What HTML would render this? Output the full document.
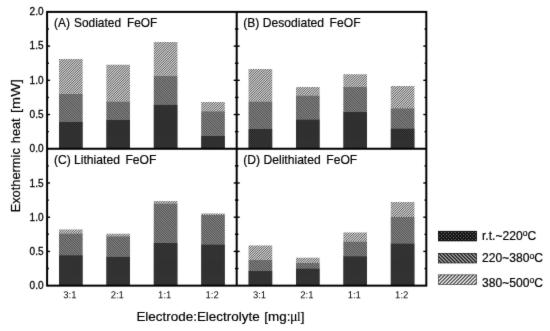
<!DOCTYPE html>
<html lang="en">
<head>
<meta charset="utf-8">
<title>Exothermic heat of FeOF electrodes</title>
<style>
html,body{margin:0;padding:0;background:#fff;}
body{width:550px;height:331px;overflow:hidden;}
svg{display:block;}
text{font-family:"Liberation Sans",Arial,sans-serif;fill:#000;stroke:#000;stroke-width:0.2px;}
.lg{font-size:12.1px;}
</style>
</head>
<body>
<svg width="550" height="331" viewBox="0 0 550 331">
<defs>
<filter id="soft" x="0" y="0" width="550" height="331" filterUnits="userSpaceOnUse" color-interpolation-filters="sRGB"><feConvolveMatrix order="3" kernelMatrix="0.015 0.06 0.015 0.06 0.7 0.06 0.015 0.06 0.015" divisor="1" edgeMode="duplicate" preserveAlpha="true"/></filter>
</defs>
<g filter="url(#soft)">
<rect width="550" height="331" fill="#ffffff"/>

<defs>
<clipPath id="bL"><rect x="59.00" y="59.00" width="23.60" height="35.00"/><rect x="106.40" y="64.80" width="23.60" height="36.80"/><rect x="153.80" y="41.90" width="23.60" height="33.80"/><rect x="201.20" y="102.10" width="23.60" height="9.20"/><rect x="248.60" y="69.10" width="23.60" height="32.50"/><rect x="296.00" y="87.00" width="23.60" height="8.40"/><rect x="343.40" y="74.30" width="23.60" height="12.70"/><rect x="390.80" y="86.00" width="23.60" height="22.20"/><rect x="59.00" y="229.60" width="23.60" height="3.80"/><rect x="106.40" y="233.70" width="23.60" height="2.50"/><rect x="153.80" y="200.90" width="23.60" height="2.50"/><rect x="201.20" y="213.60" width="23.60" height="1.30"/><rect x="248.60" y="245.60" width="23.60" height="14.50"/><rect x="296.00" y="257.80" width="23.60" height="5.10"/><rect x="343.40" y="232.40" width="23.60" height="9.20"/><rect x="390.80" y="202.10" width="23.60" height="14.80"/></clipPath>
<clipPath id="bM"><rect x="59.00" y="94.00" width="23.60" height="28.00"/><rect x="106.40" y="101.60" width="23.60" height="18.40"/><rect x="153.80" y="75.70" width="23.60" height="29.00"/><rect x="201.20" y="111.30" width="23.60" height="24.70"/><rect x="248.60" y="101.60" width="23.60" height="27.30"/><rect x="296.00" y="95.40" width="23.60" height="24.20"/><rect x="343.40" y="87.00" width="23.60" height="25.00"/><rect x="390.80" y="108.20" width="23.60" height="20.30"/><rect x="59.00" y="233.40" width="23.60" height="21.90"/><rect x="106.40" y="236.20" width="23.60" height="20.60"/><rect x="153.80" y="203.40" width="23.60" height="39.70"/><rect x="201.20" y="214.90" width="23.60" height="29.50"/><rect x="248.60" y="260.10" width="23.60" height="11.00"/><rect x="296.00" y="262.90" width="23.60" height="5.60"/><rect x="343.40" y="241.60" width="23.60" height="14.70"/><rect x="390.80" y="216.90" width="23.60" height="26.70"/></clipPath>
<clipPath id="bD"><rect x="59.00" y="122.00" width="23.60" height="26.75"/><rect x="106.40" y="120.00" width="23.60" height="28.75"/><rect x="153.80" y="104.70" width="23.60" height="44.05"/><rect x="201.20" y="136.00" width="23.60" height="12.75"/><rect x="248.60" y="128.90" width="23.60" height="19.85"/><rect x="296.00" y="119.60" width="23.60" height="29.15"/><rect x="343.40" y="112.00" width="23.60" height="36.75"/><rect x="390.80" y="128.50" width="23.60" height="20.25"/><rect x="59.00" y="255.30" width="23.60" height="30.35"/><rect x="106.40" y="256.80" width="23.60" height="28.85"/><rect x="153.80" y="243.10" width="23.60" height="42.55"/><rect x="201.20" y="244.40" width="23.60" height="41.25"/><rect x="248.60" y="271.10" width="23.60" height="14.55"/><rect x="296.00" y="268.50" width="23.60" height="17.15"/><rect x="343.40" y="256.30" width="23.60" height="29.35"/><rect x="390.80" y="243.60" width="23.60" height="42.05"/></clipPath>
</defs>
<g clip-path="url(#bL)">
<rect x="47.1" y="11.9" width="379.2" height="273.75" fill="#d6d6d6"/>
<path d="M-89.8 148.8l136.8 -136.8M-87.3 148.8l136.8 -136.8M-84.9 148.8l136.8 -136.8M-82.5 148.8l136.8 -136.8M-80.1 148.8l136.8 -136.8M-77.7 148.8l136.8 -136.8M-75.3 148.8l136.8 -136.8M-72.9 148.8l136.8 -136.8M-70.5 148.8l136.8 -136.8M-68.1 148.8l136.8 -136.8M-65.7 148.8l136.8 -136.8M-63.3 148.8l136.8 -136.8M-60.9 148.8l136.8 -136.8M-58.5 148.8l136.8 -136.8M-56.1 148.8l136.8 -136.8M-53.7 148.8l136.8 -136.8M-51.3 148.8l136.8 -136.8M-48.9 148.8l136.8 -136.8M-46.5 148.8l136.8 -136.8M-44.1 148.8l136.8 -136.8M-41.7 148.8l136.8 -136.8M-39.3 148.8l136.8 -136.8M-36.9 148.8l136.8 -136.8M-34.5 148.8l136.8 -136.8M-32.1 148.8l136.8 -136.8M-29.7 148.8l136.8 -136.8M-27.3 148.8l136.8 -136.8M-24.9 148.8l136.8 -136.8M-22.5 148.8l136.8 -136.8M-20.1 148.8l136.8 -136.8M-17.7 148.8l136.8 -136.8M-15.3 148.8l136.8 -136.8M-12.9 148.8l136.8 -136.8M-10.5 148.8l136.8 -136.8M-8.1 148.8l136.8 -136.8M-5.7 148.8l136.8 -136.8M-3.3 148.8l136.8 -136.8M-0.9 148.8l136.8 -136.8M1.5 148.8l136.8 -136.8M3.9 148.8l136.8 -136.8M6.3 148.8l136.8 -136.8M8.7 148.8l136.8 -136.8M11.1 148.8l136.8 -136.8M13.5 148.8l136.8 -136.8M15.9 148.8l136.8 -136.8M18.3 148.8l136.8 -136.8M20.7 148.8l136.8 -136.8M23.1 148.8l136.8 -136.8M25.5 148.8l136.8 -136.8M27.9 148.8l136.8 -136.8M30.3 148.8l136.8 -136.8M32.7 148.8l136.8 -136.8M35.1 148.8l136.8 -136.8M37.5 148.8l136.8 -136.8M39.9 148.8l136.8 -136.8M42.3 148.8l136.8 -136.8M44.7 148.8l136.8 -136.8M47.1 148.8l136.8 -136.8M49.5 148.8l136.8 -136.8M51.9 148.8l136.8 -136.8M54.3 148.8l136.8 -136.8M56.7 148.8l136.8 -136.8M59.1 148.8l136.8 -136.8M61.5 148.8l136.8 -136.8M63.9 148.8l136.8 -136.8M66.3 148.8l136.8 -136.8M68.7 148.8l136.8 -136.8M71.1 148.8l136.8 -136.8M73.5 148.8l136.8 -136.8M75.9 148.8l136.8 -136.8M78.3 148.8l136.8 -136.8M80.7 148.8l136.8 -136.8M83.1 148.8l136.8 -136.8M85.5 148.8l136.8 -136.8M87.9 148.8l136.8 -136.8M90.3 148.8l136.8 -136.8M92.7 148.8l136.8 -136.8M95.1 148.8l136.8 -136.8M97.5 148.8l136.8 -136.8M99.9 148.8l136.8 -136.8M102.3 148.8l136.8 -136.8M104.7 148.8l136.8 -136.8M107.1 148.8l136.8 -136.8M109.5 148.8l136.8 -136.8M111.9 148.8l136.8 -136.8M114.3 148.8l136.8 -136.8M116.7 148.8l136.8 -136.8M119.1 148.8l136.8 -136.8M121.5 148.8l136.8 -136.8M123.9 148.8l136.8 -136.8M126.3 148.8l136.8 -136.8M128.7 148.8l136.8 -136.8M131.1 148.8l136.8 -136.8M133.5 148.8l136.8 -136.8M135.9 148.8l136.8 -136.8M138.3 148.8l136.8 -136.8M140.7 148.8l136.8 -136.8M143.1 148.8l136.8 -136.8M145.5 148.8l136.8 -136.8M147.9 148.8l136.8 -136.8M150.3 148.8l136.8 -136.8M152.7 148.8l136.8 -136.8M155.1 148.8l136.8 -136.8M157.5 148.8l136.8 -136.8M159.9 148.8l136.8 -136.8M162.3 148.8l136.8 -136.8M164.7 148.8l136.8 -136.8M167.1 148.8l136.8 -136.8M169.5 148.8l136.8 -136.8M171.9 148.8l136.8 -136.8M174.3 148.8l136.8 -136.8M176.7 148.8l136.8 -136.8M179.1 148.8l136.8 -136.8M181.5 148.8l136.8 -136.8M183.9 148.8l136.8 -136.8M186.3 148.8l136.8 -136.8M188.7 148.8l136.8 -136.8M191.1 148.8l136.8 -136.8M193.5 148.8l136.8 -136.8M195.9 148.8l136.8 -136.8M198.3 148.8l136.8 -136.8M200.7 148.8l136.8 -136.8M203.1 148.8l136.8 -136.8M205.5 148.8l136.8 -136.8M207.9 148.8l136.8 -136.8M210.3 148.8l136.8 -136.8M212.7 148.8l136.8 -136.8M215.1 148.8l136.8 -136.8M217.5 148.8l136.8 -136.8M219.9 148.8l136.8 -136.8M222.3 148.8l136.8 -136.8M224.7 148.8l136.8 -136.8M227.1 148.8l136.8 -136.8M229.5 148.8l136.8 -136.8M231.9 148.8l136.8 -136.8M234.3 148.8l136.8 -136.8M236.7 148.8l136.8 -136.8M239.1 148.8l136.8 -136.8M241.5 148.8l136.8 -136.8M243.9 148.8l136.8 -136.8M246.3 148.8l136.8 -136.8M248.7 148.8l136.8 -136.8M251.1 148.8l136.8 -136.8M253.5 148.8l136.8 -136.8M255.9 148.8l136.8 -136.8M258.3 148.8l136.8 -136.8M260.7 148.8l136.8 -136.8M263.1 148.8l136.8 -136.8M265.5 148.8l136.8 -136.8M267.9 148.8l136.8 -136.8M270.3 148.8l136.8 -136.8M272.7 148.8l136.8 -136.8M275.1 148.8l136.8 -136.8M277.5 148.8l136.8 -136.8M279.9 148.8l136.8 -136.8M282.3 148.8l136.8 -136.8M284.7 148.8l136.8 -136.8M287.1 148.8l136.8 -136.8M289.5 148.8l136.8 -136.8M291.9 148.8l136.8 -136.8M294.3 148.8l136.8 -136.8M296.7 148.8l136.8 -136.8M299.1 148.8l136.8 -136.8M301.5 148.8l136.8 -136.8M303.9 148.8l136.8 -136.8M306.2 148.8l136.8 -136.8M308.6 148.8l136.8 -136.8M311.0 148.8l136.8 -136.8M313.4 148.8l136.8 -136.8M315.8 148.8l136.8 -136.8M318.2 148.8l136.8 -136.8M320.6 148.8l136.8 -136.8M323.0 148.8l136.8 -136.8M325.4 148.8l136.8 -136.8M327.8 148.8l136.8 -136.8M330.2 148.8l136.8 -136.8M332.6 148.8l136.8 -136.8M335.0 148.8l136.8 -136.8M337.4 148.8l136.8 -136.8M339.8 148.8l136.8 -136.8M342.2 148.8l136.8 -136.8M344.6 148.8l136.8 -136.8M347.0 148.8l136.8 -136.8M349.4 148.8l136.8 -136.8M351.8 148.8l136.8 -136.8M354.2 148.8l136.8 -136.8M356.6 148.8l136.8 -136.8M359.0 148.8l136.8 -136.8M361.4 148.8l136.8 -136.8M363.8 148.8l136.8 -136.8M366.2 148.8l136.8 -136.8M368.6 148.8l136.8 -136.8M371.0 148.8l136.8 -136.8M373.4 148.8l136.8 -136.8M375.8 148.8l136.8 -136.8M378.2 148.8l136.8 -136.8M380.6 148.8l136.8 -136.8M383.0 148.8l136.8 -136.8M385.4 148.8l136.8 -136.8M387.8 148.8l136.8 -136.8M390.2 148.8l136.8 -136.8M392.6 148.8l136.8 -136.8M395.0 148.8l136.8 -136.8M397.4 148.8l136.8 -136.8M399.8 148.8l136.8 -136.8M402.2 148.8l136.8 -136.8M404.6 148.8l136.8 -136.8M407.0 148.8l136.8 -136.8M409.4 148.8l136.8 -136.8M411.8 148.8l136.8 -136.8M414.2 148.8l136.8 -136.8M416.6 148.8l136.8 -136.8M419.0 148.8l136.8 -136.8M421.4 148.8l136.8 -136.8M423.8 148.8l136.8 -136.8M426.2 148.8l136.8 -136.8" stroke="#505050" stroke-width="0.95" fill="none"/>
<path d="M-89.8 285.6l136.9 -136.9M-87.4 285.6l136.9 -136.9M-85.0 285.6l136.9 -136.9M-82.6 285.6l136.9 -136.9M-80.2 285.6l136.9 -136.9M-77.8 285.6l136.9 -136.9M-75.4 285.6l136.9 -136.9M-73.0 285.6l136.9 -136.9M-70.6 285.6l136.9 -136.9M-68.2 285.6l136.9 -136.9M-65.8 285.6l136.9 -136.9M-63.4 285.6l136.9 -136.9M-61.0 285.6l136.9 -136.9M-58.6 285.6l136.9 -136.9M-56.2 285.6l136.9 -136.9M-53.8 285.6l136.9 -136.9M-51.4 285.6l136.9 -136.9M-49.0 285.6l136.9 -136.9M-46.6 285.6l136.9 -136.9M-44.2 285.6l136.9 -136.9M-41.8 285.6l136.9 -136.9M-39.4 285.6l136.9 -136.9M-37.0 285.6l136.9 -136.9M-34.6 285.6l136.9 -136.9M-32.2 285.6l136.9 -136.9M-29.8 285.6l136.9 -136.9M-27.4 285.6l136.9 -136.9M-25.0 285.6l136.9 -136.9M-22.6 285.6l136.9 -136.9M-20.2 285.6l136.9 -136.9M-17.8 285.6l136.9 -136.9M-15.4 285.6l136.9 -136.9M-13.0 285.6l136.9 -136.9M-10.6 285.6l136.9 -136.9M-8.2 285.6l136.9 -136.9M-5.8 285.6l136.9 -136.9M-3.4 285.6l136.9 -136.9M-1.0 285.6l136.9 -136.9M1.4 285.6l136.9 -136.9M3.8 285.6l136.9 -136.9M6.2 285.6l136.9 -136.9M8.6 285.6l136.9 -136.9M11.0 285.6l136.9 -136.9M13.4 285.6l136.9 -136.9M15.8 285.6l136.9 -136.9M18.2 285.6l136.9 -136.9M20.6 285.6l136.9 -136.9M23.0 285.6l136.9 -136.9M25.4 285.6l136.9 -136.9M27.8 285.6l136.9 -136.9M30.2 285.6l136.9 -136.9M32.6 285.6l136.9 -136.9M35.0 285.6l136.9 -136.9M37.4 285.6l136.9 -136.9M39.8 285.6l136.9 -136.9M42.2 285.6l136.9 -136.9M44.6 285.6l136.9 -136.9M47.0 285.6l136.9 -136.9M49.4 285.6l136.9 -136.9M51.8 285.6l136.9 -136.9M54.2 285.6l136.9 -136.9M56.6 285.6l136.9 -136.9M59.0 285.6l136.9 -136.9M61.4 285.6l136.9 -136.9M63.8 285.6l136.9 -136.9M66.2 285.6l136.9 -136.9M68.6 285.6l136.9 -136.9M71.0 285.6l136.9 -136.9M73.4 285.6l136.9 -136.9M75.8 285.6l136.9 -136.9M78.2 285.6l136.9 -136.9M80.6 285.6l136.9 -136.9M83.0 285.6l136.9 -136.9M85.4 285.6l136.9 -136.9M87.8 285.6l136.9 -136.9M90.2 285.6l136.9 -136.9M92.6 285.6l136.9 -136.9M95.0 285.6l136.9 -136.9M97.4 285.6l136.9 -136.9M99.8 285.6l136.9 -136.9M102.2 285.6l136.9 -136.9M104.6 285.6l136.9 -136.9M107.0 285.6l136.9 -136.9M109.4 285.6l136.9 -136.9M111.8 285.6l136.9 -136.9M114.2 285.6l136.9 -136.9M116.6 285.6l136.9 -136.9M119.0 285.6l136.9 -136.9M121.4 285.6l136.9 -136.9M123.8 285.6l136.9 -136.9M126.2 285.6l136.9 -136.9M128.6 285.6l136.9 -136.9M131.0 285.6l136.9 -136.9M133.4 285.6l136.9 -136.9M135.8 285.6l136.9 -136.9M138.2 285.6l136.9 -136.9M140.6 285.6l136.9 -136.9M143.0 285.6l136.9 -136.9M145.4 285.6l136.9 -136.9M147.8 285.6l136.9 -136.9M150.2 285.6l136.9 -136.9M152.6 285.6l136.9 -136.9M155.0 285.6l136.9 -136.9M157.4 285.6l136.9 -136.9M159.8 285.6l136.9 -136.9M162.2 285.6l136.9 -136.9M164.6 285.6l136.9 -136.9M167.0 285.6l136.9 -136.9M169.4 285.6l136.9 -136.9M171.8 285.6l136.9 -136.9M174.2 285.6l136.9 -136.9M176.6 285.6l136.9 -136.9M179.0 285.6l136.9 -136.9M181.4 285.6l136.9 -136.9M183.8 285.6l136.9 -136.9M186.2 285.6l136.9 -136.9M188.6 285.6l136.9 -136.9M191.0 285.6l136.9 -136.9M193.4 285.6l136.9 -136.9M195.8 285.6l136.9 -136.9M198.2 285.6l136.9 -136.9M200.6 285.6l136.9 -136.9M203.0 285.6l136.9 -136.9M205.4 285.6l136.9 -136.9M207.8 285.6l136.9 -136.9M210.2 285.6l136.9 -136.9M212.6 285.6l136.9 -136.9M215.0 285.6l136.9 -136.9M217.4 285.6l136.9 -136.9M219.8 285.6l136.9 -136.9M222.2 285.6l136.9 -136.9M224.6 285.6l136.9 -136.9M227.0 285.6l136.9 -136.9M229.4 285.6l136.9 -136.9M231.8 285.6l136.9 -136.9M234.2 285.6l136.9 -136.9M236.6 285.6l136.9 -136.9M239.0 285.6l136.9 -136.9M241.4 285.6l136.9 -136.9M243.8 285.6l136.9 -136.9M246.2 285.6l136.9 -136.9M248.6 285.6l136.9 -136.9M251.0 285.6l136.9 -136.9M253.4 285.6l136.9 -136.9M255.8 285.6l136.9 -136.9M258.2 285.6l136.9 -136.9M260.6 285.6l136.9 -136.9M263.0 285.6l136.9 -136.9M265.4 285.6l136.9 -136.9M267.8 285.6l136.9 -136.9M270.2 285.6l136.9 -136.9M272.6 285.6l136.9 -136.9M275.0 285.6l136.9 -136.9M277.4 285.6l136.9 -136.9M279.8 285.6l136.9 -136.9M282.2 285.6l136.9 -136.9M284.6 285.6l136.9 -136.9M287.0 285.6l136.9 -136.9M289.4 285.6l136.9 -136.9M291.8 285.6l136.9 -136.9M294.2 285.6l136.9 -136.9M296.6 285.6l136.9 -136.9M299.0 285.6l136.9 -136.9M301.4 285.6l136.9 -136.9M303.8 285.6l136.9 -136.9M306.2 285.6l136.9 -136.9M308.6 285.6l136.9 -136.9M311.0 285.6l136.9 -136.9M313.4 285.6l136.9 -136.9M315.8 285.6l136.9 -136.9M318.2 285.6l136.9 -136.9M320.6 285.6l136.9 -136.9M323.0 285.6l136.9 -136.9M325.4 285.6l136.9 -136.9M327.8 285.6l136.9 -136.9M330.2 285.6l136.9 -136.9M332.6 285.6l136.9 -136.9M335.0 285.6l136.9 -136.9M337.4 285.6l136.9 -136.9M339.8 285.6l136.9 -136.9M342.2 285.6l136.9 -136.9M344.6 285.6l136.9 -136.9M347.0 285.6l136.9 -136.9M349.4 285.6l136.9 -136.9M351.8 285.6l136.9 -136.9M354.2 285.6l136.9 -136.9M356.6 285.6l136.9 -136.9M359.0 285.6l136.9 -136.9M361.4 285.6l136.9 -136.9M363.8 285.6l136.9 -136.9M366.2 285.6l136.9 -136.9M368.6 285.6l136.9 -136.9M371.0 285.6l136.9 -136.9M373.4 285.6l136.9 -136.9M375.8 285.6l136.9 -136.9M378.2 285.6l136.9 -136.9M380.6 285.6l136.9 -136.9M383.0 285.6l136.9 -136.9M385.4 285.6l136.9 -136.9M387.8 285.6l136.9 -136.9M390.2 285.6l136.9 -136.9M392.6 285.6l136.9 -136.9M395.0 285.6l136.9 -136.9M397.4 285.6l136.9 -136.9M399.8 285.6l136.9 -136.9M402.2 285.6l136.9 -136.9M404.6 285.6l136.9 -136.9M407.0 285.6l136.9 -136.9M409.4 285.6l136.9 -136.9M411.8 285.6l136.9 -136.9M414.2 285.6l136.9 -136.9M416.6 285.6l136.9 -136.9M419.0 285.6l136.9 -136.9M421.4 285.6l136.9 -136.9M423.8 285.6l136.9 -136.9M426.2 285.6l136.9 -136.9" stroke="#505050" stroke-width="0.95" fill="none"/>
</g>
<g clip-path="url(#bM)">
<rect x="47.1" y="11.9" width="379.2" height="273.75" fill="#888888"/>
<path d="M-89.8 11.9l136.8 136.8M-87.3 11.9l136.8 136.8M-84.9 11.9l136.8 136.8M-82.5 11.9l136.8 136.8M-80.1 11.9l136.8 136.8M-77.7 11.9l136.8 136.8M-75.3 11.9l136.8 136.8M-72.9 11.9l136.8 136.8M-70.5 11.9l136.8 136.8M-68.1 11.9l136.8 136.8M-65.7 11.9l136.8 136.8M-63.3 11.9l136.8 136.8M-60.9 11.9l136.8 136.8M-58.5 11.9l136.8 136.8M-56.1 11.9l136.8 136.8M-53.7 11.9l136.8 136.8M-51.3 11.9l136.8 136.8M-48.9 11.9l136.8 136.8M-46.5 11.9l136.8 136.8M-44.1 11.9l136.8 136.8M-41.7 11.9l136.8 136.8M-39.3 11.9l136.8 136.8M-36.9 11.9l136.8 136.8M-34.5 11.9l136.8 136.8M-32.1 11.9l136.8 136.8M-29.7 11.9l136.8 136.8M-27.3 11.9l136.8 136.8M-24.9 11.9l136.8 136.8M-22.5 11.9l136.8 136.8M-20.1 11.9l136.8 136.8M-17.7 11.9l136.8 136.8M-15.3 11.9l136.8 136.8M-12.9 11.9l136.8 136.8M-10.5 11.9l136.8 136.8M-8.1 11.9l136.8 136.8M-5.7 11.9l136.8 136.8M-3.3 11.9l136.8 136.8M-0.9 11.9l136.8 136.8M1.5 11.9l136.8 136.8M3.9 11.9l136.8 136.8M6.3 11.9l136.8 136.8M8.7 11.9l136.8 136.8M11.1 11.9l136.8 136.8M13.5 11.9l136.8 136.8M15.9 11.9l136.8 136.8M18.3 11.9l136.8 136.8M20.7 11.9l136.8 136.8M23.1 11.9l136.8 136.8M25.5 11.9l136.8 136.8M27.9 11.9l136.8 136.8M30.3 11.9l136.8 136.8M32.7 11.9l136.8 136.8M35.1 11.9l136.8 136.8M37.5 11.9l136.8 136.8M39.9 11.9l136.8 136.8M42.3 11.9l136.8 136.8M44.7 11.9l136.8 136.8M47.1 11.9l136.8 136.8M49.5 11.9l136.8 136.8M51.9 11.9l136.8 136.8M54.3 11.9l136.8 136.8M56.7 11.9l136.8 136.8M59.1 11.9l136.8 136.8M61.5 11.9l136.8 136.8M63.9 11.9l136.8 136.8M66.3 11.9l136.8 136.8M68.7 11.9l136.8 136.8M71.1 11.9l136.8 136.8M73.5 11.9l136.8 136.8M75.9 11.9l136.8 136.8M78.3 11.9l136.8 136.8M80.7 11.9l136.8 136.8M83.1 11.9l136.8 136.8M85.5 11.9l136.8 136.8M87.9 11.9l136.8 136.8M90.3 11.9l136.8 136.8M92.7 11.9l136.8 136.8M95.1 11.9l136.8 136.8M97.5 11.9l136.8 136.8M99.9 11.9l136.8 136.8M102.3 11.9l136.8 136.8M104.7 11.9l136.8 136.8M107.1 11.9l136.8 136.8M109.5 11.9l136.8 136.8M111.9 11.9l136.8 136.8M114.3 11.9l136.8 136.8M116.7 11.9l136.8 136.8M119.1 11.9l136.8 136.8M121.5 11.9l136.8 136.8M123.9 11.9l136.8 136.8M126.3 11.9l136.8 136.8M128.7 11.9l136.8 136.8M131.1 11.9l136.8 136.8M133.5 11.9l136.8 136.8M135.9 11.9l136.8 136.8M138.3 11.9l136.8 136.8M140.7 11.9l136.8 136.8M143.1 11.9l136.8 136.8M145.5 11.9l136.8 136.8M147.9 11.9l136.8 136.8M150.3 11.9l136.8 136.8M152.7 11.9l136.8 136.8M155.1 11.9l136.8 136.8M157.5 11.9l136.8 136.8M159.9 11.9l136.8 136.8M162.3 11.9l136.8 136.8M164.7 11.9l136.8 136.8M167.1 11.9l136.8 136.8M169.5 11.9l136.8 136.8M171.9 11.9l136.8 136.8M174.3 11.9l136.8 136.8M176.7 11.9l136.8 136.8M179.1 11.9l136.8 136.8M181.5 11.9l136.8 136.8M183.9 11.9l136.8 136.8M186.3 11.9l136.8 136.8M188.7 11.9l136.8 136.8M191.1 11.9l136.8 136.8M193.5 11.9l136.8 136.8M195.9 11.9l136.8 136.8M198.3 11.9l136.8 136.8M200.7 11.9l136.8 136.8M203.1 11.9l136.8 136.8M205.5 11.9l136.8 136.8M207.9 11.9l136.8 136.8M210.3 11.9l136.8 136.8M212.7 11.9l136.8 136.8M215.1 11.9l136.8 136.8M217.5 11.9l136.8 136.8M219.9 11.9l136.8 136.8M222.3 11.9l136.8 136.8M224.7 11.9l136.8 136.8M227.1 11.9l136.8 136.8M229.5 11.9l136.8 136.8M231.9 11.9l136.8 136.8M234.3 11.9l136.8 136.8M236.7 11.9l136.8 136.8M239.1 11.9l136.8 136.8M241.5 11.9l136.8 136.8M243.9 11.9l136.8 136.8M246.3 11.9l136.8 136.8M248.7 11.9l136.8 136.8M251.1 11.9l136.8 136.8M253.5 11.9l136.8 136.8M255.9 11.9l136.8 136.8M258.3 11.9l136.8 136.8M260.7 11.9l136.8 136.8M263.1 11.9l136.8 136.8M265.5 11.9l136.8 136.8M267.9 11.9l136.8 136.8M270.3 11.9l136.8 136.8M272.7 11.9l136.8 136.8M275.1 11.9l136.8 136.8M277.5 11.9l136.8 136.8M279.9 11.9l136.8 136.8M282.3 11.9l136.8 136.8M284.7 11.9l136.8 136.8M287.1 11.9l136.8 136.8M289.5 11.9l136.8 136.8M291.9 11.9l136.8 136.8M294.3 11.9l136.8 136.8M296.7 11.9l136.8 136.8M299.1 11.9l136.8 136.8M301.5 11.9l136.8 136.8M303.9 11.9l136.8 136.8M306.2 11.9l136.8 136.8M308.6 11.9l136.8 136.8M311.0 11.9l136.8 136.8M313.4 11.9l136.8 136.8M315.8 11.9l136.8 136.8M318.2 11.9l136.8 136.8M320.6 11.9l136.8 136.8M323.0 11.9l136.8 136.8M325.4 11.9l136.8 136.8M327.8 11.9l136.8 136.8M330.2 11.9l136.8 136.8M332.6 11.9l136.8 136.8M335.0 11.9l136.8 136.8M337.4 11.9l136.8 136.8M339.8 11.9l136.8 136.8M342.2 11.9l136.8 136.8M344.6 11.9l136.8 136.8M347.0 11.9l136.8 136.8M349.4 11.9l136.8 136.8M351.8 11.9l136.8 136.8M354.2 11.9l136.8 136.8M356.6 11.9l136.8 136.8M359.0 11.9l136.8 136.8M361.4 11.9l136.8 136.8M363.8 11.9l136.8 136.8M366.2 11.9l136.8 136.8M368.6 11.9l136.8 136.8M371.0 11.9l136.8 136.8M373.4 11.9l136.8 136.8M375.8 11.9l136.8 136.8M378.2 11.9l136.8 136.8M380.6 11.9l136.8 136.8M383.0 11.9l136.8 136.8M385.4 11.9l136.8 136.8M387.8 11.9l136.8 136.8M390.2 11.9l136.8 136.8M392.6 11.9l136.8 136.8M395.0 11.9l136.8 136.8M397.4 11.9l136.8 136.8M399.8 11.9l136.8 136.8M402.2 11.9l136.8 136.8M404.6 11.9l136.8 136.8M407.0 11.9l136.8 136.8M409.4 11.9l136.8 136.8M411.8 11.9l136.8 136.8M414.2 11.9l136.8 136.8M416.6 11.9l136.8 136.8M419.0 11.9l136.8 136.8M421.4 11.9l136.8 136.8M423.8 11.9l136.8 136.8M426.2 11.9l136.8 136.8" stroke="#404040" stroke-width="0.9" fill="none"/>
<path d="M-89.8 148.8l136.9 136.9M-87.4 148.8l136.9 136.9M-85.0 148.8l136.9 136.9M-82.6 148.8l136.9 136.9M-80.2 148.8l136.9 136.9M-77.8 148.8l136.9 136.9M-75.4 148.8l136.9 136.9M-73.0 148.8l136.9 136.9M-70.6 148.8l136.9 136.9M-68.2 148.8l136.9 136.9M-65.8 148.8l136.9 136.9M-63.4 148.8l136.9 136.9M-61.0 148.8l136.9 136.9M-58.6 148.8l136.9 136.9M-56.2 148.8l136.9 136.9M-53.8 148.8l136.9 136.9M-51.4 148.8l136.9 136.9M-49.0 148.8l136.9 136.9M-46.6 148.8l136.9 136.9M-44.2 148.8l136.9 136.9M-41.8 148.8l136.9 136.9M-39.4 148.8l136.9 136.9M-37.0 148.8l136.9 136.9M-34.6 148.8l136.9 136.9M-32.2 148.8l136.9 136.9M-29.8 148.8l136.9 136.9M-27.4 148.8l136.9 136.9M-25.0 148.8l136.9 136.9M-22.6 148.8l136.9 136.9M-20.2 148.8l136.9 136.9M-17.8 148.8l136.9 136.9M-15.4 148.8l136.9 136.9M-13.0 148.8l136.9 136.9M-10.6 148.8l136.9 136.9M-8.2 148.8l136.9 136.9M-5.8 148.8l136.9 136.9M-3.4 148.8l136.9 136.9M-1.0 148.8l136.9 136.9M1.4 148.8l136.9 136.9M3.8 148.8l136.9 136.9M6.2 148.8l136.9 136.9M8.6 148.8l136.9 136.9M11.0 148.8l136.9 136.9M13.4 148.8l136.9 136.9M15.8 148.8l136.9 136.9M18.2 148.8l136.9 136.9M20.6 148.8l136.9 136.9M23.0 148.8l136.9 136.9M25.4 148.8l136.9 136.9M27.8 148.8l136.9 136.9M30.2 148.8l136.9 136.9M32.6 148.8l136.9 136.9M35.0 148.8l136.9 136.9M37.4 148.8l136.9 136.9M39.8 148.8l136.9 136.9M42.2 148.8l136.9 136.9M44.6 148.8l136.9 136.9M47.0 148.8l136.9 136.9M49.4 148.8l136.9 136.9M51.8 148.8l136.9 136.9M54.2 148.8l136.9 136.9M56.6 148.8l136.9 136.9M59.0 148.8l136.9 136.9M61.4 148.8l136.9 136.9M63.8 148.8l136.9 136.9M66.2 148.8l136.9 136.9M68.6 148.8l136.9 136.9M71.0 148.8l136.9 136.9M73.4 148.8l136.9 136.9M75.8 148.8l136.9 136.9M78.2 148.8l136.9 136.9M80.6 148.8l136.9 136.9M83.0 148.8l136.9 136.9M85.4 148.8l136.9 136.9M87.8 148.8l136.9 136.9M90.2 148.8l136.9 136.9M92.6 148.8l136.9 136.9M95.0 148.8l136.9 136.9M97.4 148.8l136.9 136.9M99.8 148.8l136.9 136.9M102.2 148.8l136.9 136.9M104.6 148.8l136.9 136.9M107.0 148.8l136.9 136.9M109.4 148.8l136.9 136.9M111.8 148.8l136.9 136.9M114.2 148.8l136.9 136.9M116.6 148.8l136.9 136.9M119.0 148.8l136.9 136.9M121.4 148.8l136.9 136.9M123.8 148.8l136.9 136.9M126.2 148.8l136.9 136.9M128.6 148.8l136.9 136.9M131.0 148.8l136.9 136.9M133.4 148.8l136.9 136.9M135.8 148.8l136.9 136.9M138.2 148.8l136.9 136.9M140.6 148.8l136.9 136.9M143.0 148.8l136.9 136.9M145.4 148.8l136.9 136.9M147.8 148.8l136.9 136.9M150.2 148.8l136.9 136.9M152.6 148.8l136.9 136.9M155.0 148.8l136.9 136.9M157.4 148.8l136.9 136.9M159.8 148.8l136.9 136.9M162.2 148.8l136.9 136.9M164.6 148.8l136.9 136.9M167.0 148.8l136.9 136.9M169.4 148.8l136.9 136.9M171.8 148.8l136.9 136.9M174.2 148.8l136.9 136.9M176.6 148.8l136.9 136.9M179.0 148.8l136.9 136.9M181.4 148.8l136.9 136.9M183.8 148.8l136.9 136.9M186.2 148.8l136.9 136.9M188.6 148.8l136.9 136.9M191.0 148.8l136.9 136.9M193.4 148.8l136.9 136.9M195.8 148.8l136.9 136.9M198.2 148.8l136.9 136.9M200.6 148.8l136.9 136.9M203.0 148.8l136.9 136.9M205.4 148.8l136.9 136.9M207.8 148.8l136.9 136.9M210.2 148.8l136.9 136.9M212.6 148.8l136.9 136.9M215.0 148.8l136.9 136.9M217.4 148.8l136.9 136.9M219.8 148.8l136.9 136.9M222.2 148.8l136.9 136.9M224.6 148.8l136.9 136.9M227.0 148.8l136.9 136.9M229.4 148.8l136.9 136.9M231.8 148.8l136.9 136.9M234.2 148.8l136.9 136.9M236.6 148.8l136.9 136.9M239.0 148.8l136.9 136.9M241.4 148.8l136.9 136.9M243.8 148.8l136.9 136.9M246.2 148.8l136.9 136.9M248.6 148.8l136.9 136.9M251.0 148.8l136.9 136.9M253.4 148.8l136.9 136.9M255.8 148.8l136.9 136.9M258.2 148.8l136.9 136.9M260.6 148.8l136.9 136.9M263.0 148.8l136.9 136.9M265.4 148.8l136.9 136.9M267.8 148.8l136.9 136.9M270.2 148.8l136.9 136.9M272.6 148.8l136.9 136.9M275.0 148.8l136.9 136.9M277.4 148.8l136.9 136.9M279.8 148.8l136.9 136.9M282.2 148.8l136.9 136.9M284.6 148.8l136.9 136.9M287.0 148.8l136.9 136.9M289.4 148.8l136.9 136.9M291.8 148.8l136.9 136.9M294.2 148.8l136.9 136.9M296.6 148.8l136.9 136.9M299.0 148.8l136.9 136.9M301.4 148.8l136.9 136.9M303.8 148.8l136.9 136.9M306.2 148.8l136.9 136.9M308.6 148.8l136.9 136.9M311.0 148.8l136.9 136.9M313.4 148.8l136.9 136.9M315.8 148.8l136.9 136.9M318.2 148.8l136.9 136.9M320.6 148.8l136.9 136.9M323.0 148.8l136.9 136.9M325.4 148.8l136.9 136.9M327.8 148.8l136.9 136.9M330.2 148.8l136.9 136.9M332.6 148.8l136.9 136.9M335.0 148.8l136.9 136.9M337.4 148.8l136.9 136.9M339.8 148.8l136.9 136.9M342.2 148.8l136.9 136.9M344.6 148.8l136.9 136.9M347.0 148.8l136.9 136.9M349.4 148.8l136.9 136.9M351.8 148.8l136.9 136.9M354.2 148.8l136.9 136.9M356.6 148.8l136.9 136.9M359.0 148.8l136.9 136.9M361.4 148.8l136.9 136.9M363.8 148.8l136.9 136.9M366.2 148.8l136.9 136.9M368.6 148.8l136.9 136.9M371.0 148.8l136.9 136.9M373.4 148.8l136.9 136.9M375.8 148.8l136.9 136.9M378.2 148.8l136.9 136.9M380.6 148.8l136.9 136.9M383.0 148.8l136.9 136.9M385.4 148.8l136.9 136.9M387.8 148.8l136.9 136.9M390.2 148.8l136.9 136.9M392.6 148.8l136.9 136.9M395.0 148.8l136.9 136.9M397.4 148.8l136.9 136.9M399.8 148.8l136.9 136.9M402.2 148.8l136.9 136.9M404.6 148.8l136.9 136.9M407.0 148.8l136.9 136.9M409.4 148.8l136.9 136.9M411.8 148.8l136.9 136.9M414.2 148.8l136.9 136.9M416.6 148.8l136.9 136.9M419.0 148.8l136.9 136.9M421.4 148.8l136.9 136.9M423.8 148.8l136.9 136.9M426.2 148.8l136.9 136.9" stroke="#404040" stroke-width="0.9" fill="none"/>
</g>
<g clip-path="url(#bD)">
<rect x="47.1" y="11.9" width="379.2" height="273.75" fill="#505050"/>
<path d="M-89.8 148.8l136.8 -136.8M-87.8 148.8l136.8 -136.8M-85.8 148.8l136.8 -136.8M-83.8 148.8l136.8 -136.8M-81.8 148.8l136.8 -136.8M-79.8 148.8l136.8 -136.8M-77.8 148.8l136.8 -136.8M-75.8 148.8l136.8 -136.8M-73.8 148.8l136.8 -136.8M-71.8 148.8l136.8 -136.8M-69.8 148.8l136.8 -136.8M-67.8 148.8l136.8 -136.8M-65.8 148.8l136.8 -136.8M-63.8 148.8l136.8 -136.8M-61.8 148.8l136.8 -136.8M-59.8 148.8l136.8 -136.8M-57.8 148.8l136.8 -136.8M-55.8 148.8l136.8 -136.8M-53.8 148.8l136.8 -136.8M-51.8 148.8l136.8 -136.8M-49.8 148.8l136.8 -136.8M-47.8 148.8l136.8 -136.8M-45.8 148.8l136.8 -136.8M-43.8 148.8l136.8 -136.8M-41.8 148.8l136.8 -136.8M-39.8 148.8l136.8 -136.8M-37.8 148.8l136.8 -136.8M-35.8 148.8l136.8 -136.8M-33.8 148.8l136.8 -136.8M-31.8 148.8l136.8 -136.8M-29.8 148.8l136.8 -136.8M-27.8 148.8l136.8 -136.8M-25.8 148.8l136.8 -136.8M-23.8 148.8l136.8 -136.8M-21.8 148.8l136.8 -136.8M-19.8 148.8l136.8 -136.8M-17.8 148.8l136.8 -136.8M-15.8 148.8l136.8 -136.8M-13.8 148.8l136.8 -136.8M-11.8 148.8l136.8 -136.8M-9.8 148.8l136.8 -136.8M-7.8 148.8l136.8 -136.8M-5.8 148.8l136.8 -136.8M-3.8 148.8l136.8 -136.8M-1.8 148.8l136.8 -136.8M0.2 148.8l136.8 -136.8M2.2 148.8l136.8 -136.8M4.2 148.8l136.8 -136.8M6.2 148.8l136.8 -136.8M8.2 148.8l136.8 -136.8M10.2 148.8l136.8 -136.8M12.2 148.8l136.8 -136.8M14.2 148.8l136.8 -136.8M16.2 148.8l136.8 -136.8M18.2 148.8l136.8 -136.8M20.2 148.8l136.8 -136.8M22.2 148.8l136.8 -136.8M24.2 148.8l136.8 -136.8M26.2 148.8l136.8 -136.8M28.2 148.8l136.8 -136.8M30.2 148.8l136.8 -136.8M32.2 148.8l136.8 -136.8M34.2 148.8l136.8 -136.8M36.2 148.8l136.8 -136.8M38.2 148.8l136.8 -136.8M40.2 148.8l136.8 -136.8M42.2 148.8l136.8 -136.8M44.2 148.8l136.8 -136.8M46.2 148.8l136.8 -136.8M48.2 148.8l136.8 -136.8M50.2 148.8l136.8 -136.8M52.2 148.8l136.8 -136.8M54.2 148.8l136.8 -136.8M56.2 148.8l136.8 -136.8M58.2 148.8l136.8 -136.8M60.2 148.8l136.8 -136.8M62.2 148.8l136.8 -136.8M64.2 148.8l136.8 -136.8M66.2 148.8l136.8 -136.8M68.2 148.8l136.8 -136.8M70.2 148.8l136.8 -136.8M72.2 148.8l136.8 -136.8M74.2 148.8l136.8 -136.8M76.2 148.8l136.8 -136.8M78.2 148.8l136.8 -136.8M80.2 148.8l136.8 -136.8M82.2 148.8l136.8 -136.8M84.2 148.8l136.8 -136.8M86.2 148.8l136.8 -136.8M88.2 148.8l136.8 -136.8M90.2 148.8l136.8 -136.8M92.2 148.8l136.8 -136.8M94.2 148.8l136.8 -136.8M96.2 148.8l136.8 -136.8M98.2 148.8l136.8 -136.8M100.2 148.8l136.8 -136.8M102.2 148.8l136.8 -136.8M104.2 148.8l136.8 -136.8M106.2 148.8l136.8 -136.8M108.2 148.8l136.8 -136.8M110.2 148.8l136.8 -136.8M112.2 148.8l136.8 -136.8M114.2 148.8l136.8 -136.8M116.2 148.8l136.8 -136.8M118.2 148.8l136.8 -136.8M120.2 148.8l136.8 -136.8M122.2 148.8l136.8 -136.8M124.2 148.8l136.8 -136.8M126.2 148.8l136.8 -136.8M128.2 148.8l136.8 -136.8M130.2 148.8l136.8 -136.8M132.2 148.8l136.8 -136.8M134.2 148.8l136.8 -136.8M136.2 148.8l136.8 -136.8M138.2 148.8l136.8 -136.8M140.2 148.8l136.8 -136.8M142.2 148.8l136.8 -136.8M144.2 148.8l136.8 -136.8M146.2 148.8l136.8 -136.8M148.2 148.8l136.8 -136.8M150.2 148.8l136.8 -136.8M152.2 148.8l136.8 -136.8M154.2 148.8l136.8 -136.8M156.2 148.8l136.8 -136.8M158.2 148.8l136.8 -136.8M160.2 148.8l136.8 -136.8M162.2 148.8l136.8 -136.8M164.2 148.8l136.8 -136.8M166.2 148.8l136.8 -136.8M168.2 148.8l136.8 -136.8M170.2 148.8l136.8 -136.8M172.2 148.8l136.8 -136.8M174.2 148.8l136.8 -136.8M176.2 148.8l136.8 -136.8M178.2 148.8l136.8 -136.8M180.2 148.8l136.8 -136.8M182.2 148.8l136.8 -136.8M184.2 148.8l136.8 -136.8M186.2 148.8l136.8 -136.8M188.2 148.8l136.8 -136.8M190.2 148.8l136.8 -136.8M192.2 148.8l136.8 -136.8M194.2 148.8l136.8 -136.8M196.2 148.8l136.8 -136.8M198.2 148.8l136.8 -136.8M200.2 148.8l136.8 -136.8M202.2 148.8l136.8 -136.8M204.2 148.8l136.8 -136.8M206.2 148.8l136.8 -136.8M208.2 148.8l136.8 -136.8M210.2 148.8l136.8 -136.8M212.2 148.8l136.8 -136.8M214.2 148.8l136.8 -136.8M216.2 148.8l136.8 -136.8M218.2 148.8l136.8 -136.8M220.2 148.8l136.8 -136.8M222.2 148.8l136.8 -136.8M224.2 148.8l136.8 -136.8M226.2 148.8l136.8 -136.8M228.2 148.8l136.8 -136.8M230.2 148.8l136.8 -136.8M232.2 148.8l136.8 -136.8M234.2 148.8l136.8 -136.8M236.2 148.8l136.8 -136.8M238.2 148.8l136.8 -136.8M240.2 148.8l136.8 -136.8M242.2 148.8l136.8 -136.8M244.2 148.8l136.8 -136.8M246.2 148.8l136.8 -136.8M248.2 148.8l136.8 -136.8M250.2 148.8l136.8 -136.8M252.2 148.8l136.8 -136.8M254.2 148.8l136.8 -136.8M256.2 148.8l136.8 -136.8M258.2 148.8l136.8 -136.8M260.2 148.8l136.8 -136.8M262.2 148.8l136.8 -136.8M264.2 148.8l136.8 -136.8M266.2 148.8l136.8 -136.8M268.2 148.8l136.8 -136.8M270.2 148.8l136.8 -136.8M272.2 148.8l136.8 -136.8M274.2 148.8l136.8 -136.8M276.2 148.8l136.8 -136.8M278.2 148.8l136.8 -136.8M280.2 148.8l136.8 -136.8M282.2 148.8l136.8 -136.8M284.2 148.8l136.8 -136.8M286.2 148.8l136.8 -136.8M288.2 148.8l136.8 -136.8M290.2 148.8l136.8 -136.8M292.2 148.8l136.8 -136.8M294.2 148.8l136.8 -136.8M296.2 148.8l136.8 -136.8M298.2 148.8l136.8 -136.8M300.2 148.8l136.8 -136.8M302.2 148.8l136.8 -136.8M304.2 148.8l136.8 -136.8M306.2 148.8l136.8 -136.8M308.2 148.8l136.8 -136.8M310.2 148.8l136.8 -136.8M312.2 148.8l136.8 -136.8M314.2 148.8l136.8 -136.8M316.2 148.8l136.8 -136.8M318.2 148.8l136.8 -136.8M320.2 148.8l136.8 -136.8M322.2 148.8l136.8 -136.8M324.2 148.8l136.8 -136.8M326.2 148.8l136.8 -136.8M328.2 148.8l136.8 -136.8M330.2 148.8l136.8 -136.8M332.2 148.8l136.8 -136.8M334.2 148.8l136.8 -136.8M336.2 148.8l136.8 -136.8M338.2 148.8l136.8 -136.8M340.2 148.8l136.8 -136.8M342.2 148.8l136.8 -136.8M344.2 148.8l136.8 -136.8M346.2 148.8l136.8 -136.8M348.2 148.8l136.8 -136.8M350.2 148.8l136.8 -136.8M352.2 148.8l136.8 -136.8M354.2 148.8l136.8 -136.8M356.2 148.8l136.8 -136.8M358.2 148.8l136.8 -136.8M360.2 148.8l136.8 -136.8M362.2 148.8l136.8 -136.8M364.2 148.8l136.8 -136.8M366.2 148.8l136.8 -136.8M368.2 148.8l136.8 -136.8M370.2 148.8l136.8 -136.8M372.2 148.8l136.8 -136.8M374.2 148.8l136.8 -136.8M376.2 148.8l136.8 -136.8M378.2 148.8l136.8 -136.8M380.2 148.8l136.8 -136.8M382.2 148.8l136.8 -136.8M384.2 148.8l136.8 -136.8M386.2 148.8l136.8 -136.8M388.2 148.8l136.8 -136.8M390.2 148.8l136.8 -136.8M392.2 148.8l136.8 -136.8M394.2 148.8l136.8 -136.8M396.2 148.8l136.8 -136.8M398.2 148.8l136.8 -136.8M400.2 148.8l136.8 -136.8M402.2 148.8l136.8 -136.8M404.2 148.8l136.8 -136.8M406.2 148.8l136.8 -136.8M408.2 148.8l136.8 -136.8M410.2 148.8l136.8 -136.8M412.2 148.8l136.8 -136.8M414.2 148.8l136.8 -136.8M416.2 148.8l136.8 -136.8M418.2 148.8l136.8 -136.8M420.2 148.8l136.8 -136.8M422.2 148.8l136.8 -136.8M424.2 148.8l136.8 -136.8M426.2 148.8l136.8 -136.8M-88.8 11.9l136.8 136.8M-86.8 11.9l136.8 136.8M-84.8 11.9l136.8 136.8M-82.8 11.9l136.8 136.8M-80.8 11.9l136.8 136.8M-78.8 11.9l136.8 136.8M-76.8 11.9l136.8 136.8M-74.8 11.9l136.8 136.8M-72.8 11.9l136.8 136.8M-70.8 11.9l136.8 136.8M-68.8 11.9l136.8 136.8M-66.8 11.9l136.8 136.8M-64.8 11.9l136.8 136.8M-62.8 11.9l136.8 136.8M-60.8 11.9l136.8 136.8M-58.8 11.9l136.8 136.8M-56.8 11.9l136.8 136.8M-54.8 11.9l136.8 136.8M-52.8 11.9l136.8 136.8M-50.8 11.9l136.8 136.8M-48.8 11.9l136.8 136.8M-46.8 11.9l136.8 136.8M-44.8 11.9l136.8 136.8M-42.8 11.9l136.8 136.8M-40.8 11.9l136.8 136.8M-38.8 11.9l136.8 136.8M-36.8 11.9l136.8 136.8M-34.8 11.9l136.8 136.8M-32.8 11.9l136.8 136.8M-30.8 11.9l136.8 136.8M-28.8 11.9l136.8 136.8M-26.8 11.9l136.8 136.8M-24.8 11.9l136.8 136.8M-22.8 11.9l136.8 136.8M-20.8 11.9l136.8 136.8M-18.8 11.9l136.8 136.8M-16.8 11.9l136.8 136.8M-14.8 11.9l136.8 136.8M-12.8 11.9l136.8 136.8M-10.8 11.9l136.8 136.8M-8.8 11.9l136.8 136.8M-6.8 11.9l136.8 136.8M-4.8 11.9l136.8 136.8M-2.8 11.9l136.8 136.8M-0.8 11.9l136.8 136.8M1.2 11.9l136.8 136.8M3.2 11.9l136.8 136.8M5.2 11.9l136.8 136.8M7.2 11.9l136.8 136.8M9.2 11.9l136.8 136.8M11.2 11.9l136.8 136.8M13.2 11.9l136.8 136.8M15.2 11.9l136.8 136.8M17.2 11.9l136.8 136.8M19.2 11.9l136.8 136.8M21.2 11.9l136.8 136.8M23.2 11.9l136.8 136.8M25.2 11.9l136.8 136.8M27.2 11.9l136.8 136.8M29.2 11.9l136.8 136.8M31.2 11.9l136.8 136.8M33.2 11.9l136.8 136.8M35.2 11.9l136.8 136.8M37.2 11.9l136.8 136.8M39.2 11.9l136.8 136.8M41.2 11.9l136.8 136.8M43.2 11.9l136.8 136.8M45.2 11.9l136.8 136.8M47.2 11.9l136.8 136.8M49.2 11.9l136.8 136.8M51.2 11.9l136.8 136.8M53.2 11.9l136.8 136.8M55.2 11.9l136.8 136.8M57.2 11.9l136.8 136.8M59.2 11.9l136.8 136.8M61.2 11.9l136.8 136.8M63.2 11.9l136.8 136.8M65.2 11.9l136.8 136.8M67.2 11.9l136.8 136.8M69.2 11.9l136.8 136.8M71.2 11.9l136.8 136.8M73.2 11.9l136.8 136.8M75.2 11.9l136.8 136.8M77.2 11.9l136.8 136.8M79.2 11.9l136.8 136.8M81.2 11.9l136.8 136.8M83.2 11.9l136.8 136.8M85.2 11.9l136.8 136.8M87.2 11.9l136.8 136.8M89.2 11.9l136.8 136.8M91.2 11.9l136.8 136.8M93.2 11.9l136.8 136.8M95.2 11.9l136.8 136.8M97.2 11.9l136.8 136.8M99.2 11.9l136.8 136.8M101.2 11.9l136.8 136.8M103.2 11.9l136.8 136.8M105.2 11.9l136.8 136.8M107.2 11.9l136.8 136.8M109.2 11.9l136.8 136.8M111.2 11.9l136.8 136.8M113.2 11.9l136.8 136.8M115.2 11.9l136.8 136.8M117.2 11.9l136.8 136.8M119.2 11.9l136.8 136.8M121.2 11.9l136.8 136.8M123.2 11.9l136.8 136.8M125.2 11.9l136.8 136.8M127.2 11.9l136.8 136.8M129.2 11.9l136.8 136.8M131.2 11.9l136.8 136.8M133.2 11.9l136.8 136.8M135.2 11.9l136.8 136.8M137.2 11.9l136.8 136.8M139.2 11.9l136.8 136.8M141.2 11.9l136.8 136.8M143.2 11.9l136.8 136.8M145.2 11.9l136.8 136.8M147.2 11.9l136.8 136.8M149.2 11.9l136.8 136.8M151.2 11.9l136.8 136.8M153.2 11.9l136.8 136.8M155.2 11.9l136.8 136.8M157.2 11.9l136.8 136.8M159.2 11.9l136.8 136.8M161.2 11.9l136.8 136.8M163.2 11.9l136.8 136.8M165.2 11.9l136.8 136.8M167.2 11.9l136.8 136.8M169.2 11.9l136.8 136.8M171.2 11.9l136.8 136.8M173.2 11.9l136.8 136.8M175.2 11.9l136.8 136.8M177.2 11.9l136.8 136.8M179.2 11.9l136.8 136.8M181.2 11.9l136.8 136.8M183.2 11.9l136.8 136.8M185.2 11.9l136.8 136.8M187.2 11.9l136.8 136.8M189.2 11.9l136.8 136.8M191.2 11.9l136.8 136.8M193.2 11.9l136.8 136.8M195.2 11.9l136.8 136.8M197.2 11.9l136.8 136.8M199.2 11.9l136.8 136.8M201.2 11.9l136.8 136.8M203.2 11.9l136.8 136.8M205.2 11.9l136.8 136.8M207.2 11.9l136.8 136.8M209.2 11.9l136.8 136.8M211.2 11.9l136.8 136.8M213.2 11.9l136.8 136.8M215.2 11.9l136.8 136.8M217.2 11.9l136.8 136.8M219.2 11.9l136.8 136.8M221.2 11.9l136.8 136.8M223.2 11.9l136.8 136.8M225.2 11.9l136.8 136.8M227.2 11.9l136.8 136.8M229.2 11.9l136.8 136.8M231.2 11.9l136.8 136.8M233.2 11.9l136.8 136.8M235.2 11.9l136.8 136.8M237.2 11.9l136.8 136.8M239.2 11.9l136.8 136.8M241.2 11.9l136.8 136.8M243.2 11.9l136.8 136.8M245.2 11.9l136.8 136.8M247.2 11.9l136.8 136.8M249.2 11.9l136.8 136.8M251.2 11.9l136.8 136.8M253.2 11.9l136.8 136.8M255.2 11.9l136.8 136.8M257.2 11.9l136.8 136.8M259.2 11.9l136.8 136.8M261.2 11.9l136.8 136.8M263.2 11.9l136.8 136.8M265.2 11.9l136.8 136.8M267.2 11.9l136.8 136.8M269.2 11.9l136.8 136.8M271.2 11.9l136.8 136.8M273.2 11.9l136.8 136.8M275.2 11.9l136.8 136.8M277.2 11.9l136.8 136.8M279.2 11.9l136.8 136.8M281.2 11.9l136.8 136.8M283.2 11.9l136.8 136.8M285.2 11.9l136.8 136.8M287.2 11.9l136.8 136.8M289.2 11.9l136.8 136.8M291.2 11.9l136.8 136.8M293.2 11.9l136.8 136.8M295.2 11.9l136.8 136.8M297.2 11.9l136.8 136.8M299.2 11.9l136.8 136.8M301.2 11.9l136.8 136.8M303.2 11.9l136.8 136.8M305.2 11.9l136.8 136.8M307.2 11.9l136.8 136.8M309.2 11.9l136.8 136.8M311.2 11.9l136.8 136.8M313.2 11.9l136.8 136.8M315.2 11.9l136.8 136.8M317.2 11.9l136.8 136.8M319.2 11.9l136.8 136.8M321.2 11.9l136.8 136.8M323.2 11.9l136.8 136.8M325.2 11.9l136.8 136.8M327.2 11.9l136.8 136.8M329.2 11.9l136.8 136.8M331.2 11.9l136.8 136.8M333.2 11.9l136.8 136.8M335.2 11.9l136.8 136.8M337.2 11.9l136.8 136.8M339.2 11.9l136.8 136.8M341.2 11.9l136.8 136.8M343.2 11.9l136.8 136.8M345.2 11.9l136.8 136.8M347.2 11.9l136.8 136.8M349.2 11.9l136.8 136.8M351.2 11.9l136.8 136.8M353.2 11.9l136.8 136.8M355.2 11.9l136.8 136.8M357.2 11.9l136.8 136.8M359.2 11.9l136.8 136.8M361.2 11.9l136.8 136.8M363.2 11.9l136.8 136.8M365.2 11.9l136.8 136.8M367.2 11.9l136.8 136.8M369.2 11.9l136.8 136.8M371.2 11.9l136.8 136.8M373.2 11.9l136.8 136.8M375.2 11.9l136.8 136.8M377.2 11.9l136.8 136.8M379.2 11.9l136.8 136.8M381.2 11.9l136.8 136.8M383.2 11.9l136.8 136.8M385.2 11.9l136.8 136.8M387.2 11.9l136.8 136.8M389.2 11.9l136.8 136.8M391.2 11.9l136.8 136.8M393.2 11.9l136.8 136.8M395.2 11.9l136.8 136.8M397.2 11.9l136.8 136.8M399.2 11.9l136.8 136.8M401.2 11.9l136.8 136.8M403.2 11.9l136.8 136.8M405.2 11.9l136.8 136.8M407.2 11.9l136.8 136.8M409.2 11.9l136.8 136.8M411.2 11.9l136.8 136.8M413.2 11.9l136.8 136.8M415.2 11.9l136.8 136.8M417.2 11.9l136.8 136.8M419.2 11.9l136.8 136.8M421.2 11.9l136.8 136.8M423.2 11.9l136.8 136.8M425.2 11.9l136.8 136.8" stroke="#262626" stroke-width="0.85" fill="none"/>
<path d="M-89.8 285.6l136.9 -136.9M-87.8 285.6l136.9 -136.9M-85.8 285.6l136.9 -136.9M-83.8 285.6l136.9 -136.9M-81.8 285.6l136.9 -136.9M-79.8 285.6l136.9 -136.9M-77.8 285.6l136.9 -136.9M-75.8 285.6l136.9 -136.9M-73.8 285.6l136.9 -136.9M-71.8 285.6l136.9 -136.9M-69.8 285.6l136.9 -136.9M-67.8 285.6l136.9 -136.9M-65.8 285.6l136.9 -136.9M-63.8 285.6l136.9 -136.9M-61.8 285.6l136.9 -136.9M-59.8 285.6l136.9 -136.9M-57.8 285.6l136.9 -136.9M-55.8 285.6l136.9 -136.9M-53.8 285.6l136.9 -136.9M-51.8 285.6l136.9 -136.9M-49.8 285.6l136.9 -136.9M-47.8 285.6l136.9 -136.9M-45.8 285.6l136.9 -136.9M-43.8 285.6l136.9 -136.9M-41.8 285.6l136.9 -136.9M-39.8 285.6l136.9 -136.9M-37.8 285.6l136.9 -136.9M-35.8 285.6l136.9 -136.9M-33.8 285.6l136.9 -136.9M-31.8 285.6l136.9 -136.9M-29.8 285.6l136.9 -136.9M-27.8 285.6l136.9 -136.9M-25.8 285.6l136.9 -136.9M-23.8 285.6l136.9 -136.9M-21.8 285.6l136.9 -136.9M-19.8 285.6l136.9 -136.9M-17.8 285.6l136.9 -136.9M-15.8 285.6l136.9 -136.9M-13.8 285.6l136.9 -136.9M-11.8 285.6l136.9 -136.9M-9.8 285.6l136.9 -136.9M-7.8 285.6l136.9 -136.9M-5.8 285.6l136.9 -136.9M-3.8 285.6l136.9 -136.9M-1.8 285.6l136.9 -136.9M0.2 285.6l136.9 -136.9M2.2 285.6l136.9 -136.9M4.2 285.6l136.9 -136.9M6.2 285.6l136.9 -136.9M8.2 285.6l136.9 -136.9M10.2 285.6l136.9 -136.9M12.2 285.6l136.9 -136.9M14.2 285.6l136.9 -136.9M16.2 285.6l136.9 -136.9M18.2 285.6l136.9 -136.9M20.2 285.6l136.9 -136.9M22.2 285.6l136.9 -136.9M24.2 285.6l136.9 -136.9M26.2 285.6l136.9 -136.9M28.2 285.6l136.9 -136.9M30.2 285.6l136.9 -136.9M32.2 285.6l136.9 -136.9M34.2 285.6l136.9 -136.9M36.2 285.6l136.9 -136.9M38.2 285.6l136.9 -136.9M40.2 285.6l136.9 -136.9M42.2 285.6l136.9 -136.9M44.2 285.6l136.9 -136.9M46.2 285.6l136.9 -136.9M48.2 285.6l136.9 -136.9M50.2 285.6l136.9 -136.9M52.2 285.6l136.9 -136.9M54.2 285.6l136.9 -136.9M56.2 285.6l136.9 -136.9M58.2 285.6l136.9 -136.9M60.2 285.6l136.9 -136.9M62.2 285.6l136.9 -136.9M64.2 285.6l136.9 -136.9M66.2 285.6l136.9 -136.9M68.2 285.6l136.9 -136.9M70.2 285.6l136.9 -136.9M72.2 285.6l136.9 -136.9M74.2 285.6l136.9 -136.9M76.2 285.6l136.9 -136.9M78.2 285.6l136.9 -136.9M80.2 285.6l136.9 -136.9M82.2 285.6l136.9 -136.9M84.2 285.6l136.9 -136.9M86.2 285.6l136.9 -136.9M88.2 285.6l136.9 -136.9M90.2 285.6l136.9 -136.9M92.2 285.6l136.9 -136.9M94.2 285.6l136.9 -136.9M96.2 285.6l136.9 -136.9M98.2 285.6l136.9 -136.9M100.2 285.6l136.9 -136.9M102.2 285.6l136.9 -136.9M104.2 285.6l136.9 -136.9M106.2 285.6l136.9 -136.9M108.2 285.6l136.9 -136.9M110.2 285.6l136.9 -136.9M112.2 285.6l136.9 -136.9M114.2 285.6l136.9 -136.9M116.2 285.6l136.9 -136.9M118.2 285.6l136.9 -136.9M120.2 285.6l136.9 -136.9M122.2 285.6l136.9 -136.9M124.2 285.6l136.9 -136.9M126.2 285.6l136.9 -136.9M128.2 285.6l136.9 -136.9M130.2 285.6l136.9 -136.9M132.2 285.6l136.9 -136.9M134.2 285.6l136.9 -136.9M136.2 285.6l136.9 -136.9M138.2 285.6l136.9 -136.9M140.2 285.6l136.9 -136.9M142.2 285.6l136.9 -136.9M144.2 285.6l136.9 -136.9M146.2 285.6l136.9 -136.9M148.2 285.6l136.9 -136.9M150.2 285.6l136.9 -136.9M152.2 285.6l136.9 -136.9M154.2 285.6l136.9 -136.9M156.2 285.6l136.9 -136.9M158.2 285.6l136.9 -136.9M160.2 285.6l136.9 -136.9M162.2 285.6l136.9 -136.9M164.2 285.6l136.9 -136.9M166.2 285.6l136.9 -136.9M168.2 285.6l136.9 -136.9M170.2 285.6l136.9 -136.9M172.2 285.6l136.9 -136.9M174.2 285.6l136.9 -136.9M176.2 285.6l136.9 -136.9M178.2 285.6l136.9 -136.9M180.2 285.6l136.9 -136.9M182.2 285.6l136.9 -136.9M184.2 285.6l136.9 -136.9M186.2 285.6l136.9 -136.9M188.2 285.6l136.9 -136.9M190.2 285.6l136.9 -136.9M192.2 285.6l136.9 -136.9M194.2 285.6l136.9 -136.9M196.2 285.6l136.9 -136.9M198.2 285.6l136.9 -136.9M200.2 285.6l136.9 -136.9M202.2 285.6l136.9 -136.9M204.2 285.6l136.9 -136.9M206.2 285.6l136.9 -136.9M208.2 285.6l136.9 -136.9M210.2 285.6l136.9 -136.9M212.2 285.6l136.9 -136.9M214.2 285.6l136.9 -136.9M216.2 285.6l136.9 -136.9M218.2 285.6l136.9 -136.9M220.2 285.6l136.9 -136.9M222.2 285.6l136.9 -136.9M224.2 285.6l136.9 -136.9M226.2 285.6l136.9 -136.9M228.2 285.6l136.9 -136.9M230.2 285.6l136.9 -136.9M232.2 285.6l136.9 -136.9M234.2 285.6l136.9 -136.9M236.2 285.6l136.9 -136.9M238.2 285.6l136.9 -136.9M240.2 285.6l136.9 -136.9M242.2 285.6l136.9 -136.9M244.2 285.6l136.9 -136.9M246.2 285.6l136.9 -136.9M248.2 285.6l136.9 -136.9M250.2 285.6l136.9 -136.9M252.2 285.6l136.9 -136.9M254.2 285.6l136.9 -136.9M256.2 285.6l136.9 -136.9M258.2 285.6l136.9 -136.9M260.2 285.6l136.9 -136.9M262.2 285.6l136.9 -136.9M264.2 285.6l136.9 -136.9M266.2 285.6l136.9 -136.9M268.2 285.6l136.9 -136.9M270.2 285.6l136.9 -136.9M272.2 285.6l136.9 -136.9M274.2 285.6l136.9 -136.9M276.2 285.6l136.9 -136.9M278.2 285.6l136.9 -136.9M280.2 285.6l136.9 -136.9M282.2 285.6l136.9 -136.9M284.2 285.6l136.9 -136.9M286.2 285.6l136.9 -136.9M288.2 285.6l136.9 -136.9M290.2 285.6l136.9 -136.9M292.2 285.6l136.9 -136.9M294.2 285.6l136.9 -136.9M296.2 285.6l136.9 -136.9M298.2 285.6l136.9 -136.9M300.2 285.6l136.9 -136.9M302.2 285.6l136.9 -136.9M304.2 285.6l136.9 -136.9M306.2 285.6l136.9 -136.9M308.2 285.6l136.9 -136.9M310.2 285.6l136.9 -136.9M312.2 285.6l136.9 -136.9M314.2 285.6l136.9 -136.9M316.2 285.6l136.9 -136.9M318.2 285.6l136.9 -136.9M320.2 285.6l136.9 -136.9M322.2 285.6l136.9 -136.9M324.2 285.6l136.9 -136.9M326.2 285.6l136.9 -136.9M328.2 285.6l136.9 -136.9M330.2 285.6l136.9 -136.9M332.2 285.6l136.9 -136.9M334.2 285.6l136.9 -136.9M336.2 285.6l136.9 -136.9M338.2 285.6l136.9 -136.9M340.2 285.6l136.9 -136.9M342.2 285.6l136.9 -136.9M344.2 285.6l136.9 -136.9M346.2 285.6l136.9 -136.9M348.2 285.6l136.9 -136.9M350.2 285.6l136.9 -136.9M352.2 285.6l136.9 -136.9M354.2 285.6l136.9 -136.9M356.2 285.6l136.9 -136.9M358.2 285.6l136.9 -136.9M360.2 285.6l136.9 -136.9M362.2 285.6l136.9 -136.9M364.2 285.6l136.9 -136.9M366.2 285.6l136.9 -136.9M368.2 285.6l136.9 -136.9M370.2 285.6l136.9 -136.9M372.2 285.6l136.9 -136.9M374.2 285.6l136.9 -136.9M376.2 285.6l136.9 -136.9M378.2 285.6l136.9 -136.9M380.2 285.6l136.9 -136.9M382.2 285.6l136.9 -136.9M384.2 285.6l136.9 -136.9M386.2 285.6l136.9 -136.9M388.2 285.6l136.9 -136.9M390.2 285.6l136.9 -136.9M392.2 285.6l136.9 -136.9M394.2 285.6l136.9 -136.9M396.2 285.6l136.9 -136.9M398.2 285.6l136.9 -136.9M400.2 285.6l136.9 -136.9M402.2 285.6l136.9 -136.9M404.2 285.6l136.9 -136.9M406.2 285.6l136.9 -136.9M408.2 285.6l136.9 -136.9M410.2 285.6l136.9 -136.9M412.2 285.6l136.9 -136.9M414.2 285.6l136.9 -136.9M416.2 285.6l136.9 -136.9M418.2 285.6l136.9 -136.9M420.2 285.6l136.9 -136.9M422.2 285.6l136.9 -136.9M424.2 285.6l136.9 -136.9M426.2 285.6l136.9 -136.9M-88.8 148.8l136.9 136.9M-86.8 148.8l136.9 136.9M-84.8 148.8l136.9 136.9M-82.8 148.8l136.9 136.9M-80.8 148.8l136.9 136.9M-78.8 148.8l136.9 136.9M-76.8 148.8l136.9 136.9M-74.8 148.8l136.9 136.9M-72.8 148.8l136.9 136.9M-70.8 148.8l136.9 136.9M-68.8 148.8l136.9 136.9M-66.8 148.8l136.9 136.9M-64.8 148.8l136.9 136.9M-62.8 148.8l136.9 136.9M-60.8 148.8l136.9 136.9M-58.8 148.8l136.9 136.9M-56.8 148.8l136.9 136.9M-54.8 148.8l136.9 136.9M-52.8 148.8l136.9 136.9M-50.8 148.8l136.9 136.9M-48.8 148.8l136.9 136.9M-46.8 148.8l136.9 136.9M-44.8 148.8l136.9 136.9M-42.8 148.8l136.9 136.9M-40.8 148.8l136.9 136.9M-38.8 148.8l136.9 136.9M-36.8 148.8l136.9 136.9M-34.8 148.8l136.9 136.9M-32.8 148.8l136.9 136.9M-30.8 148.8l136.9 136.9M-28.8 148.8l136.9 136.9M-26.8 148.8l136.9 136.9M-24.8 148.8l136.9 136.9M-22.8 148.8l136.9 136.9M-20.8 148.8l136.9 136.9M-18.8 148.8l136.9 136.9M-16.8 148.8l136.9 136.9M-14.8 148.8l136.9 136.9M-12.8 148.8l136.9 136.9M-10.8 148.8l136.9 136.9M-8.8 148.8l136.9 136.9M-6.8 148.8l136.9 136.9M-4.8 148.8l136.9 136.9M-2.8 148.8l136.9 136.9M-0.8 148.8l136.9 136.9M1.2 148.8l136.9 136.9M3.2 148.8l136.9 136.9M5.2 148.8l136.9 136.9M7.2 148.8l136.9 136.9M9.2 148.8l136.9 136.9M11.2 148.8l136.9 136.9M13.2 148.8l136.9 136.9M15.2 148.8l136.9 136.9M17.2 148.8l136.9 136.9M19.2 148.8l136.9 136.9M21.2 148.8l136.9 136.9M23.2 148.8l136.9 136.9M25.2 148.8l136.9 136.9M27.2 148.8l136.9 136.9M29.2 148.8l136.9 136.9M31.2 148.8l136.9 136.9M33.2 148.8l136.9 136.9M35.2 148.8l136.9 136.9M37.2 148.8l136.9 136.9M39.2 148.8l136.9 136.9M41.2 148.8l136.9 136.9M43.2 148.8l136.9 136.9M45.2 148.8l136.9 136.9M47.2 148.8l136.9 136.9M49.2 148.8l136.9 136.9M51.2 148.8l136.9 136.9M53.2 148.8l136.9 136.9M55.2 148.8l136.9 136.9M57.2 148.8l136.9 136.9M59.2 148.8l136.9 136.9M61.2 148.8l136.9 136.9M63.2 148.8l136.9 136.9M65.2 148.8l136.9 136.9M67.2 148.8l136.9 136.9M69.2 148.8l136.9 136.9M71.2 148.8l136.9 136.9M73.2 148.8l136.9 136.9M75.2 148.8l136.9 136.9M77.2 148.8l136.9 136.9M79.2 148.8l136.9 136.9M81.2 148.8l136.9 136.9M83.2 148.8l136.9 136.9M85.2 148.8l136.9 136.9M87.2 148.8l136.9 136.9M89.2 148.8l136.9 136.9M91.2 148.8l136.9 136.9M93.2 148.8l136.9 136.9M95.2 148.8l136.9 136.9M97.2 148.8l136.9 136.9M99.2 148.8l136.9 136.9M101.2 148.8l136.9 136.9M103.2 148.8l136.9 136.9M105.2 148.8l136.9 136.9M107.2 148.8l136.9 136.9M109.2 148.8l136.9 136.9M111.2 148.8l136.9 136.9M113.2 148.8l136.9 136.9M115.2 148.8l136.9 136.9M117.2 148.8l136.9 136.9M119.2 148.8l136.9 136.9M121.2 148.8l136.9 136.9M123.2 148.8l136.9 136.9M125.2 148.8l136.9 136.9M127.2 148.8l136.9 136.9M129.2 148.8l136.9 136.9M131.2 148.8l136.9 136.9M133.2 148.8l136.9 136.9M135.2 148.8l136.9 136.9M137.2 148.8l136.9 136.9M139.2 148.8l136.9 136.9M141.2 148.8l136.9 136.9M143.2 148.8l136.9 136.9M145.2 148.8l136.9 136.9M147.2 148.8l136.9 136.9M149.2 148.8l136.9 136.9M151.2 148.8l136.9 136.9M153.2 148.8l136.9 136.9M155.2 148.8l136.9 136.9M157.2 148.8l136.9 136.9M159.2 148.8l136.9 136.9M161.2 148.8l136.9 136.9M163.2 148.8l136.9 136.9M165.2 148.8l136.9 136.9M167.2 148.8l136.9 136.9M169.2 148.8l136.9 136.9M171.2 148.8l136.9 136.9M173.2 148.8l136.9 136.9M175.2 148.8l136.9 136.9M177.2 148.8l136.9 136.9M179.2 148.8l136.9 136.9M181.2 148.8l136.9 136.9M183.2 148.8l136.9 136.9M185.2 148.8l136.9 136.9M187.2 148.8l136.9 136.9M189.2 148.8l136.9 136.9M191.2 148.8l136.9 136.9M193.2 148.8l136.9 136.9M195.2 148.8l136.9 136.9M197.2 148.8l136.9 136.9M199.2 148.8l136.9 136.9M201.2 148.8l136.9 136.9M203.2 148.8l136.9 136.9M205.2 148.8l136.9 136.9M207.2 148.8l136.9 136.9M209.2 148.8l136.9 136.9M211.2 148.8l136.9 136.9M213.2 148.8l136.9 136.9M215.2 148.8l136.9 136.9M217.2 148.8l136.9 136.9M219.2 148.8l136.9 136.9M221.2 148.8l136.9 136.9M223.2 148.8l136.9 136.9M225.2 148.8l136.9 136.9M227.2 148.8l136.9 136.9M229.2 148.8l136.9 136.9M231.2 148.8l136.9 136.9M233.2 148.8l136.9 136.9M235.2 148.8l136.9 136.9M237.2 148.8l136.9 136.9M239.2 148.8l136.9 136.9M241.2 148.8l136.9 136.9M243.2 148.8l136.9 136.9M245.2 148.8l136.9 136.9M247.2 148.8l136.9 136.9M249.2 148.8l136.9 136.9M251.2 148.8l136.9 136.9M253.2 148.8l136.9 136.9M255.2 148.8l136.9 136.9M257.2 148.8l136.9 136.9M259.2 148.8l136.9 136.9M261.2 148.8l136.9 136.9M263.2 148.8l136.9 136.9M265.2 148.8l136.9 136.9M267.2 148.8l136.9 136.9M269.2 148.8l136.9 136.9M271.2 148.8l136.9 136.9M273.2 148.8l136.9 136.9M275.2 148.8l136.9 136.9M277.2 148.8l136.9 136.9M279.2 148.8l136.9 136.9M281.2 148.8l136.9 136.9M283.2 148.8l136.9 136.9M285.2 148.8l136.9 136.9M287.2 148.8l136.9 136.9M289.2 148.8l136.9 136.9M291.2 148.8l136.9 136.9M293.2 148.8l136.9 136.9M295.2 148.8l136.9 136.9M297.2 148.8l136.9 136.9M299.2 148.8l136.9 136.9M301.2 148.8l136.9 136.9M303.2 148.8l136.9 136.9M305.2 148.8l136.9 136.9M307.2 148.8l136.9 136.9M309.2 148.8l136.9 136.9M311.2 148.8l136.9 136.9M313.2 148.8l136.9 136.9M315.2 148.8l136.9 136.9M317.2 148.8l136.9 136.9M319.2 148.8l136.9 136.9M321.2 148.8l136.9 136.9M323.2 148.8l136.9 136.9M325.2 148.8l136.9 136.9M327.2 148.8l136.9 136.9M329.2 148.8l136.9 136.9M331.2 148.8l136.9 136.9M333.2 148.8l136.9 136.9M335.2 148.8l136.9 136.9M337.2 148.8l136.9 136.9M339.2 148.8l136.9 136.9M341.2 148.8l136.9 136.9M343.2 148.8l136.9 136.9M345.2 148.8l136.9 136.9M347.2 148.8l136.9 136.9M349.2 148.8l136.9 136.9M351.2 148.8l136.9 136.9M353.2 148.8l136.9 136.9M355.2 148.8l136.9 136.9M357.2 148.8l136.9 136.9M359.2 148.8l136.9 136.9M361.2 148.8l136.9 136.9M363.2 148.8l136.9 136.9M365.2 148.8l136.9 136.9M367.2 148.8l136.9 136.9M369.2 148.8l136.9 136.9M371.2 148.8l136.9 136.9M373.2 148.8l136.9 136.9M375.2 148.8l136.9 136.9M377.2 148.8l136.9 136.9M379.2 148.8l136.9 136.9M381.2 148.8l136.9 136.9M383.2 148.8l136.9 136.9M385.2 148.8l136.9 136.9M387.2 148.8l136.9 136.9M389.2 148.8l136.9 136.9M391.2 148.8l136.9 136.9M393.2 148.8l136.9 136.9M395.2 148.8l136.9 136.9M397.2 148.8l136.9 136.9M399.2 148.8l136.9 136.9M401.2 148.8l136.9 136.9M403.2 148.8l136.9 136.9M405.2 148.8l136.9 136.9M407.2 148.8l136.9 136.9M409.2 148.8l136.9 136.9M411.2 148.8l136.9 136.9M413.2 148.8l136.9 136.9M415.2 148.8l136.9 136.9M417.2 148.8l136.9 136.9M419.2 148.8l136.9 136.9M421.2 148.8l136.9 136.9M423.2 148.8l136.9 136.9M425.2 148.8l136.9 136.9" stroke="#262626" stroke-width="0.85" fill="none"/>
</g>
<g fill="none" stroke="#000" stroke-width="2.0">
<rect x="47.1" y="11.9" width="379.2" height="273.75"/>
<line x1="47.1" y1="148.75" x2="426.3" y2="148.75"/>
<line x1="236.7" y1="11.9" x2="236.7" y2="285.65"/>
</g>
<g stroke="#000" stroke-width="1.4">
<line x1="47.1" y1="131.64" x2="48.9" y2="131.64"/>
<line x1="234.89999999999998" y1="131.64" x2="238.5" y2="131.64"/>
<line x1="424.5" y1="131.64" x2="426.3" y2="131.64"/>
<line x1="47.1" y1="114.54" x2="50.1" y2="114.54"/>
<line x1="233.7" y1="114.54" x2="239.7" y2="114.54"/>
<line x1="423.3" y1="114.54" x2="426.3" y2="114.54"/>
<line x1="47.1" y1="97.43" x2="48.9" y2="97.43"/>
<line x1="234.89999999999998" y1="97.43" x2="238.5" y2="97.43"/>
<line x1="424.5" y1="97.43" x2="426.3" y2="97.43"/>
<line x1="47.1" y1="80.33" x2="50.1" y2="80.33"/>
<line x1="233.7" y1="80.33" x2="239.7" y2="80.33"/>
<line x1="423.3" y1="80.33" x2="426.3" y2="80.33"/>
<line x1="47.1" y1="63.22" x2="48.9" y2="63.22"/>
<line x1="234.89999999999998" y1="63.22" x2="238.5" y2="63.22"/>
<line x1="424.5" y1="63.22" x2="426.3" y2="63.22"/>
<line x1="47.1" y1="46.11" x2="50.1" y2="46.11"/>
<line x1="233.7" y1="46.11" x2="239.7" y2="46.11"/>
<line x1="423.3" y1="46.11" x2="426.3" y2="46.11"/>
<line x1="47.1" y1="29.01" x2="48.9" y2="29.01"/>
<line x1="234.89999999999998" y1="29.01" x2="238.5" y2="29.01"/>
<line x1="424.5" y1="29.01" x2="426.3" y2="29.01"/>
<line x1="47.1" y1="268.54" x2="48.9" y2="268.54"/>
<line x1="234.89999999999998" y1="268.54" x2="238.5" y2="268.54"/>
<line x1="424.5" y1="268.54" x2="426.3" y2="268.54"/>
<line x1="47.1" y1="251.42" x2="50.1" y2="251.42"/>
<line x1="233.7" y1="251.42" x2="239.7" y2="251.42"/>
<line x1="423.3" y1="251.42" x2="426.3" y2="251.42"/>
<line x1="47.1" y1="234.31" x2="48.9" y2="234.31"/>
<line x1="234.89999999999998" y1="234.31" x2="238.5" y2="234.31"/>
<line x1="424.5" y1="234.31" x2="426.3" y2="234.31"/>
<line x1="47.1" y1="217.20" x2="50.1" y2="217.20"/>
<line x1="233.7" y1="217.20" x2="239.7" y2="217.20"/>
<line x1="423.3" y1="217.20" x2="426.3" y2="217.20"/>
<line x1="47.1" y1="200.09" x2="48.9" y2="200.09"/>
<line x1="234.89999999999998" y1="200.09" x2="238.5" y2="200.09"/>
<line x1="424.5" y1="200.09" x2="426.3" y2="200.09"/>
<line x1="47.1" y1="182.97" x2="50.1" y2="182.97"/>
<line x1="233.7" y1="182.97" x2="239.7" y2="182.97"/>
<line x1="423.3" y1="182.97" x2="426.3" y2="182.97"/>
<line x1="47.1" y1="165.86" x2="48.9" y2="165.86"/>
<line x1="234.89999999999998" y1="165.86" x2="238.5" y2="165.86"/>
<line x1="424.5" y1="165.86" x2="426.3" y2="165.86"/>
</g>
<g>
<text transform="translate(43.60 151.95) scale(0.97 1)" font-size="10.4" text-anchor="end" style="stroke-width:0.28px">0.0</text>
<text transform="translate(43.60 117.74) scale(0.97 1)" font-size="10.4" text-anchor="end" style="stroke-width:0.28px">0.5</text>
<text transform="translate(43.60 83.53) scale(0.97 1)" font-size="10.4" text-anchor="end" style="stroke-width:0.28px">1.0</text>
<text transform="translate(43.60 49.31) scale(0.97 1)" font-size="10.4" text-anchor="end" style="stroke-width:0.28px">1.5</text>
<text transform="translate(43.60 15.10) scale(0.97 1)" font-size="10.4" text-anchor="end" style="stroke-width:0.28px">2.0</text>
<text transform="translate(43.60 289.25) scale(0.97 1)" font-size="10.4" text-anchor="end" style="stroke-width:0.28px">0.0</text>
<text transform="translate(43.60 255.02) scale(0.97 1)" font-size="10.4" text-anchor="end" style="stroke-width:0.28px">0.5</text>
<text transform="translate(43.60 220.80) scale(0.97 1)" font-size="10.4" text-anchor="end" style="stroke-width:0.28px">1.0</text>
<text transform="translate(43.60 186.57) scale(0.97 1)" font-size="10.4" text-anchor="end" style="stroke-width:0.28px">1.5</text>
</g>
<g>
<text transform="translate(69.90 298.15) rotate(0.15) scale(0.94 1)" font-size="10.1" text-anchor="middle" style="stroke:none">3:1</text>
<text transform="translate(117.30 298.15) rotate(0.15) scale(0.94 1)" font-size="10.1" text-anchor="middle" style="stroke:none">2:1</text>
<text transform="translate(164.70 298.15) rotate(0.15) scale(0.94 1)" font-size="10.1" text-anchor="middle" style="stroke:none">1:1</text>
<text transform="translate(212.10 298.15) rotate(0.15) scale(0.94 1)" font-size="10.1" text-anchor="middle" style="stroke:none">1:2</text>
<text transform="translate(259.50 298.15) rotate(0.15) scale(0.94 1)" font-size="10.1" text-anchor="middle" style="stroke:none">3:1</text>
<text transform="translate(306.90 298.15) rotate(0.15) scale(0.94 1)" font-size="10.1" text-anchor="middle" style="stroke:none">2:1</text>
<text transform="translate(354.30 298.15) rotate(0.15) scale(0.94 1)" font-size="10.1" text-anchor="middle" style="stroke:none">1:1</text>
<text transform="translate(401.70 298.15) rotate(0.15) scale(0.94 1)" font-size="10.1" text-anchor="middle" style="stroke:none">1:2</text>
</g>
<g>
<text transform="translate(54.00 27.10) scale(0.93 1)" font-size="12.8" text-anchor="start">(A) <tspan dx="0.9">Sodiated</tspan>&#160; <tspan dx="-0.8">FeOF</tspan></text>
<text transform="translate(243.20 27.40) scale(0.947 1)" font-size="12.8" text-anchor="start">(B) <tspan dx="0.0">Desodiated</tspan>&#160; <tspan dx="-1.2">FeOF</tspan></text>
<text transform="translate(53.90 164.35) scale(0.947 1)" font-size="12.8" text-anchor="start">(C) <tspan dx="0.0">Lithiated</tspan>&#160; <tspan dx="-1.2">FeOF</tspan></text>
<text transform="translate(243.30 164.35) scale(0.947 1)" font-size="12.8" text-anchor="start">(D) <tspan dx="0.0">Delithiated</tspan>&#160; <tspan dx="-1.2">FeOF</tspan></text>
</g>
<text transform="translate(136.40 321.00)" font-size="13.45" text-anchor="start" word-spacing="0.9">Electrode:Electrolyte [mg:<tspan font-family="Liberation Serif, serif" font-size="14" style="stroke-width:0.1px" dx="-0.5">&#956;</tspan><tspan font-family="Liberation Serif, serif" font-size="13" style="stroke-width:0.1px" dx="-0.3">l</tspan><tspan dx="0.1">]</tspan></text>
<text transform="translate(19.70 212.35) rotate(-90) scale(0.952 1)" font-size="13.5" text-anchor="start">Exothermic</text>
<text transform="translate(19.70 143.20) rotate(-90) scale(0.946 1)" font-size="13.5" text-anchor="start">heat</text>
<text transform="translate(19.70 112.90) rotate(-90) scale(1.07 1)" font-size="13.5" text-anchor="start">[mW]</text>
<defs>
<clipPath id="c0"><rect x="438.2" y="230.9" width="38.6" height="10.3"/></clipPath>
<clipPath id="c1"><rect x="438.2" y="253.0" width="38.6" height="10.3"/></clipPath>
<clipPath id="c2"><rect x="438.2" y="274.5" width="38.6" height="10.3"/></clipPath>
</defs>
<g clip-path="url(#c0)">
<rect x="438.2" y="230.9" width="38.6" height="10.3" fill="#7c7c7c"/>
<path d="M427.90 241.20L438.20 230.90M431.30 241.20L441.60 230.90M434.70 241.20L445.00 230.90M438.10 241.20L448.40 230.90M441.50 241.20L451.80 230.90M444.90 241.20L455.20 230.90M448.30 241.20L458.60 230.90M451.70 241.20L462.00 230.90M455.10 241.20L465.40 230.90M458.50 241.20L468.80 230.90M461.90 241.20L472.20 230.90M465.30 241.20L475.60 230.90M468.70 241.20L479.00 230.90M472.10 241.20L482.40 230.90M475.50 241.20L485.80 230.90M478.90 241.20L489.20 230.90M482.30 241.20L492.60 230.90M485.70 241.20L496.00 230.90" stroke="#0e0e0e" stroke-width="1.3" fill="none"/>
<path d="M427.90 230.90L438.20 241.20M431.30 230.90L441.60 241.20M434.70 230.90L445.00 241.20M438.10 230.90L448.40 241.20M441.50 230.90L451.80 241.20M444.90 230.90L455.20 241.20M448.30 230.90L458.60 241.20M451.70 230.90L462.00 241.20M455.10 230.90L465.40 241.20M458.50 230.90L468.80 241.20M461.90 230.90L472.20 241.20M465.30 230.90L475.60 241.20M468.70 230.90L479.00 241.20M472.10 230.90L482.40 241.20M475.50 230.90L485.80 241.20M478.90 230.90L489.20 241.20M482.30 230.90L492.60 241.20M485.70 230.90L496.00 241.20" stroke="#0e0e0e" stroke-width="1.3" fill="none"/>
</g>
<rect x="438.55" y="231.25" width="37.9" height="9.600000000000001" fill="none" stroke="#0a0a0a" stroke-width="0.7"/>
<g clip-path="url(#c1)">
<rect x="438.2" y="253.0" width="38.6" height="10.3" fill="#bcbcbc"/>
<path d="M427.90 253.00L438.20 263.30M431.45 253.00L441.75 263.30M435.00 253.00L445.30 263.30M438.55 253.00L448.85 263.30M442.10 253.00L452.40 263.30M445.65 253.00L455.95 263.30M449.20 253.00L459.50 263.30M452.75 253.00L463.05 263.30M456.30 253.00L466.60 263.30M459.85 253.00L470.15 263.30M463.40 253.00L473.70 263.30M466.95 253.00L477.25 263.30M470.50 253.00L480.80 263.30M474.05 253.00L484.35 263.30M477.60 253.00L487.90 263.30M481.15 253.00L491.45 263.30M484.70 253.00L495.00 263.30" stroke="#202020" stroke-width="1.5" fill="none"/>
</g>
<rect x="438.55" y="253.35" width="37.9" height="9.600000000000001" fill="none" stroke="#2a2a2a" stroke-width="0.7"/>
<g clip-path="url(#c2)">
<rect x="438.2" y="274.5" width="38.6" height="10.3" fill="#f2f2f2"/>
<path d="M427.90 284.80L438.20 274.50M431.45 284.80L441.75 274.50M435.00 284.80L445.30 274.50M438.55 284.80L448.85 274.50M442.10 284.80L452.40 274.50M445.65 284.80L455.95 274.50M449.20 284.80L459.50 274.50M452.75 284.80L463.05 274.50M456.30 284.80L466.60 274.50M459.85 284.80L470.15 274.50M463.40 284.80L473.70 274.50M466.95 284.80L477.25 274.50M470.50 284.80L480.80 274.50M474.05 284.80L484.35 274.50M477.60 284.80L487.90 274.50M481.15 284.80L491.45 274.50M484.70 284.80L495.00 274.50" stroke="#404040" stroke-width="1.15" fill="none"/>
</g>
<rect x="438.55" y="274.85" width="37.9" height="9.600000000000001" fill="none" stroke="#444444" stroke-width="0.7"/>
<g class="lg">
<text x="482.0" y="240.0">r.t.~220<tspan font-size="8.6" dy="-3.9">o</tspan><tspan dy="3.9">C</tspan></text>
<text x="482.0" y="262.4">220~380<tspan font-size="8.6" dy="-3.9">o</tspan><tspan dy="3.9">C</tspan></text>
<text x="482.0" y="286.6">380~500<tspan font-size="8.6" dy="-3.9">o</tspan><tspan dy="3.9">C</tspan></text>
</g>
</g>
</svg>
</body>
</html>
